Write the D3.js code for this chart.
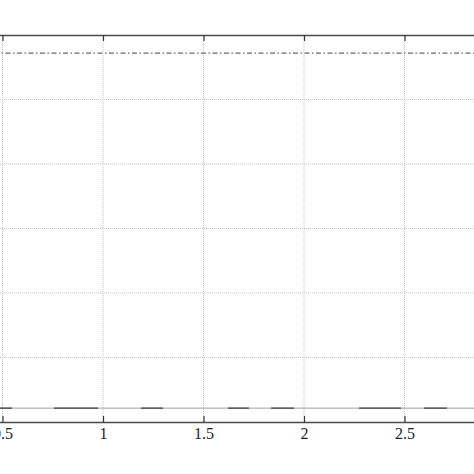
<!DOCTYPE html>
<html>
<head>
<meta charset="utf-8">
<script src="https://cdn.jsdelivr.net/npm/d3@7"></script>
<style>
  body { margin: 0; background: #fff; }
  svg { display: block; }
</style>
</head>
<body>
<div class="chart"></div>
<script>
// canvas
var svgWidth = 474;
var svgHeight = 474;

// data (y labels are cropped out, so the scale is a guess)
var xTicks = [0, 0.5, 1, 1.5, 2, 2.5, 3];
var yTicks = [0, 0.2, 0.4, 0.6, 0.8, 1, 1.2];
var timeX = [0, 3];
var refLevel = [1.144, 1.144];   // dash-dot line near top
var outLevel = [0.043, 0.043];   // line near the bottom

// plot area (left part of the figure is cut off in the reference)
var plot = { left: -98, right: 505, top: 35, bottom: 422 };

var svg = d3.select(".chart")
  .append("svg")
  .attr("width", svgWidth)
  .attr("height", svgHeight);

var x = d3.scaleLinear().domain([0, 3]).range([plot.left, plot.right]);
var y = d3.scaleLinear().domain([0, 1.2]).range([plot.bottom, plot.top]);

// grid
svg.append("g")
  .selectAll("line")
  .data(xTicks.filter(function (d) { return d > 0 && d < 3; }))
  .enter()
  .append("line")
  .attr("x1", function (d) { return x(d); })
  .attr("x2", function (d) { return x(d); })
  .attr("y1", y(0))
  .attr("y2", y(1.2))
  .attr("stroke", "#c4c4c4")
  .attr("stroke-width", 1)
  .attr("stroke-dasharray", "1,1");

svg.append("g")
  .selectAll("line")
  .data(yTicks.filter(function (d) { return d > 0 && d < 1.2; }))
  .enter()
  .append("line")
  .attr("x1", x(0))
  .attr("x2", x(3))
  .attr("y1", function (d) { return y(d); })
  .attr("y2", function (d) { return y(d); })
  .attr("stroke", "#c4c4c4")
  .attr("stroke-width", 1)
  .attr("stroke-dasharray", "1,1");

var line = d3.line()
  .x(function (d, i) { return x(timeX[i]); })
  .y(function (d) { return y(d); });

// dash-dot reference
svg.append("path")
  .datum(refLevel)
  .attr("d", line)
  .attr("fill", "none")
  .attr("stroke", "#6a6a6a")
  .attr("stroke-width", 1.3)
  .attr("stroke-dasharray", "5,2.5,1.5,2.5");

// bottom line: light solid plus darker broken dashes
svg.append("path")
  .datum(outLevel)
  .attr("d", line)
  .attr("fill", "none")
  .attr("stroke", "#a0a0a0")
  .attr("stroke-width", 1);

svg.append("path")
  .datum(outLevel)
  .attr("d", line)
  .attr("fill", "none")
  .attr("stroke", "#3c3c3c")
  .attr("stroke-width", 1.4)
  .attr("stroke-dasharray", "0," + (-x(0)) + ",12,42,44,43,22,65,21,22,23,65,42,23,23,2000");

// axes, ticks pointing inward
var bottomAxis = d3.axisBottom(x).tickValues(xTicks).tickSizeInner(-6).tickSizeOuter(0).tickPadding(6)
  .tickFormat(function (d) { return d; });
var topAxis = d3.axisTop(x).tickValues(xTicks).tickSizeInner(-6).tickSizeOuter(0).tickFormat("");

var gb = svg.append("g")
  .attr("transform", "translate(0," + plot.bottom + ")")
  .call(bottomAxis);
var gt = svg.append("g")
  .attr("transform", "translate(0," + plot.top + ")")
  .call(topAxis);

gb.attr("font-family", null).attr("font-size", null);
gb.selectAll(".tick text")
  .style("font-family", "'Liberation Serif', 'Times New Roman', serif")
  .style("font-size", "16px")
  .attr("fill", "#222");

[gb, gt].forEach(function (g) {
  g.select(".domain").attr("stroke", "#4a4a4a").attr("stroke-width", 1.6);
  g.selectAll(".tick line").attr("stroke", "#333").attr("stroke-width", 1.2);
});
</script>
</body>
</html>
